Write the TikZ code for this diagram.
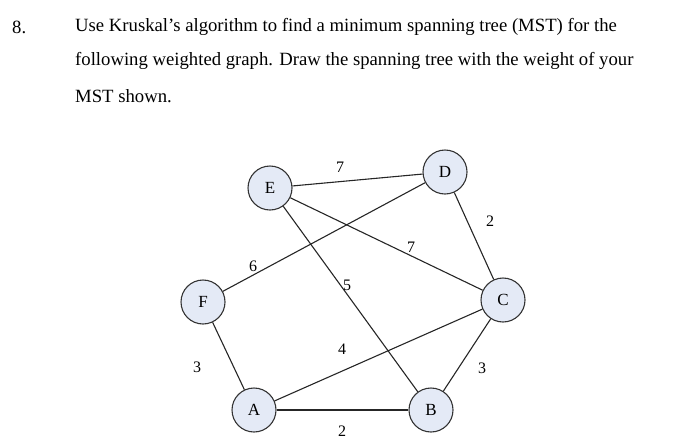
\documentclass[tikz,border=0pt]{standalone}
\usepackage{fontspec}
\setmainfont{Liberation Serif}
\definecolor{nodefill}{HTML}{E4EAF6}
\begin{document}
\begin{tikzpicture}[x=1pt,y=-1pt,
  vtx/.style={circle,draw=black!80,fill=nodefill,minimum size=44pt,inner sep=0pt,font=\fontsize{17}{19}\selectfont,line width=1.1pt},
  edge/.style={draw=black!85,line width=1.1pt},
  wt/.style={font=\fontsize{16}{18}\selectfont,inner sep=1pt},
  txt/.style={anchor=west,font=\fontsize{18.7}{22}\selectfont,inner sep=0pt}]
\useasboundingbox (0,0) rectangle (700,445);
\node[txt] (n8) at (12,27) {8.};
\node[txt] (l1) at (75,27) {Use Kruskal’s algorithm to find a minimum spanning tree (MST) for the};
\node[txt] (l2) at (75,61) {following weighted graph. Draw the spanning tree with the weight of your};
\node[txt] (l3) at (75,96) {MST shown.};
\node[vtx] (E) at (270,188) {E};
\node[vtx] (D) at (445,172) {D};
\node[vtx] (F) at (203,302) {F};
\node[vtx] (C) at (503,300) {C};
\node[vtx] (A) at (254,410) {A};
\node[vtx] (B) at (431,410) {B};
\draw[edge] (E) -- (D);
\draw[edge] (D) -- (C);
\draw[edge] (E) -- (C);
\draw[edge] (F) -- (D);
\draw[edge] (E) -- (B);
\draw[edge] (F) -- (A);
\draw[edge] (A) -- (C);
\draw[edge] (C) -- (B);
\draw[edge] (A) -- (B);
\node[wt] (w1) at (340,167) {7};
\node[wt] (w2) at (490,221) {2};
\node[wt] (w3) at (411,247) {7};
\node[wt] (w4) at (253,266) {6};
\node[wt] (w5) at (347,285) {5};
\node[wt] (w6) at (197,367) {3};
\node[wt] (w7) at (342,349) {4};
\node[wt] (w8) at (482,368) {3};
\node[wt] (w9) at (342,431) {2};
\end{tikzpicture}
\end{document}
